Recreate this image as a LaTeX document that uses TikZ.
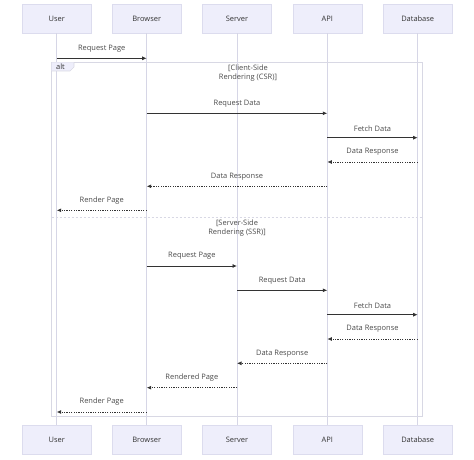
\documentclass[tikz,border=0pt]{standalone}
\usepackage{fontspec}
\setmainfont{Open Sans}
\usetikzlibrary{arrows.meta}
\definecolor{boxfill}{HTML}{EEEEFB}
\definecolor{boxdraw}{HTML}{DCDCEE}
\definecolor{lifecol}{HTML}{D6D6E6}
\definecolor{framecol}{HTML}{D8D8E4}
\definecolor{txtcol}{HTML}{4A4A4A}
\definecolor{arrcol}{HTML}{333333}
\tikzset{
  actor/.style={draw=boxdraw, fill=boxfill, line width=0.6bp, minimum width=69bp, minimum height=29bp, inner sep=0pt, font=\fontsize{7.5}{9}\selectfont, text=arrcol},
  life/.style={draw=lifecol, line width=0.8bp},
  msg/.style={draw=arrcol, line width=0.8bp, -{Latex[length=4.5bp,width=4bp]}},
  reply/.style={msg, dash pattern=on 1.2bp off 1.2bp},
  lbl/.style={font=\fontsize{7.5}{9}\selectfont, text=txtcol, inner sep=0pt},
  frm/.style={draw=framecol, line width=0.7bp},
}
\begin{document}
\begin{tikzpicture}[x=1bp,y=-1bp]
\useasboundingbox (0,0) rectangle (474,460);
% participants
\foreach \n/\x/\t in {U/56.7/User, B/146.7/Browser, S/237/Server, A/327.3/API, D/417.7/Database}{
  \node[actor] (\n top) at (\x,18.5) {\t};
  \node[actor] (\n bot) at (\x,440) {\t};
  \draw[life] (\n top.south) -- (\n bot.north);
}
% named coordinates for message rows
\foreach \n/\x in {U/56.7, B/146.7, S/237, A/327.3, D/417.7}{
  \foreach \r/\y in {1/58.3, 2/113.3, 3/137.7, 4/162, 5/186.3, 6/210.3, 7/266, 8/290.3, 9/314.7, 10/339, 11/363.3, 12/387.7, 13/412}{
    \coordinate (\n\r) at (\x,\y);
  }
}
% alt frame
\coordinate (fTL) at (51.7,62.3);
\coordinate (fBR) at (422.7,416);
\draw[frm] (fTL) rectangle (fBR);
\coordinate (tab1) at (74,62.3);
\coordinate (tab2) at (74,67);
\coordinate (tab3) at (70,71);
\coordinate (tab4) at (51.7,71);
\fill[boxfill] (fTL) -- (tab1) -- (tab2) -- (tab3) -- (tab4) -- cycle;
\draw[frm] (tab1) -- (tab2) -- (tab3) -- (tab4);
\node[lbl, text=arrcol, anchor=west] (alt) at (56,66.8) {alt};
\node[lbl, align=center] (csr) at (248,73.5) {[Client-Side\\Rendering (CSR)]};
\coordinate (sepL) at (51.7,217.5);
\coordinate (sepR) at (422.7,217.5);
\draw[frm, dash pattern=on 2bp off 2bp] (sepL) -- (sepR);
\node[lbl, align=center] (ssr) at (237,228.5) {[Server-Side\\Rendering (SSR)]};
% messages
\tikzset{ml/.style={lbl, above=6bp}}
\draw[msg] (U1) -- node[ml] {Request Page} (B1);
\draw[msg] (B2) -- node[ml] {Request Data} (A2);
\draw[msg] (A3) -- node[ml] {Fetch Data} (D3);
\draw[reply] (D4) -- node[ml] {Data Response} (A4);
\draw[reply] (A5) -- node[ml] {Data Response} (B5);
\draw[reply] (B6) -- node[ml] {Render Page} (U6);
\draw[msg] (B7) -- node[ml] {Request Page} (S7);
\draw[msg] (S8) -- node[ml] {Request Data} (A8);
\draw[msg] (A9) -- node[ml] {Fetch Data} (D9);
\draw[reply] (D10) -- node[ml] {Data Response} (A10);
\draw[reply] (A11) -- node[ml] {Data Response} (S11);
\draw[reply] (S12) -- node[ml] {Rendered Page} (B12);
\draw[reply] (B13) -- node[ml] {Render Page} (U13);
\end{tikzpicture}
\end{document}
